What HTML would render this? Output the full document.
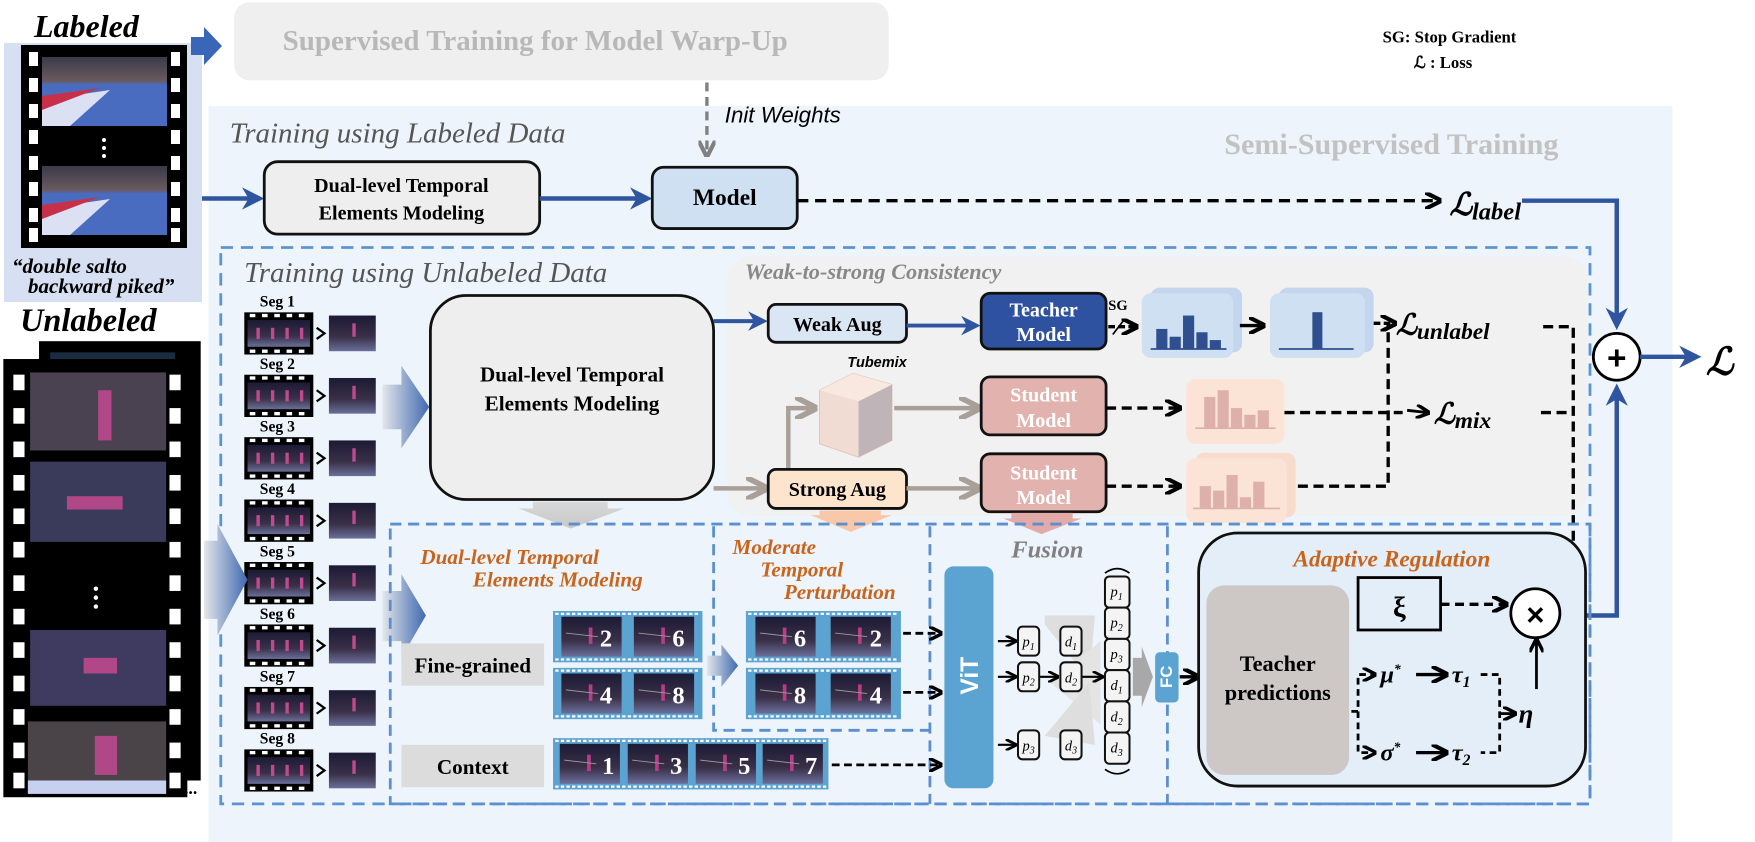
<!DOCTYPE html>
<html><head><meta charset="utf-8"><style>
html,body{margin:0;padding:0;background:#fff;}
svg{display:block;}
text{font-family:"Liberation Serif",serif;}
.b{font-weight:bold;}
.sans{font-family:"Liberation Sans",sans-serif;}
</style></head><body>
<svg width="1755" height="842" viewBox="0 0 1755 842" xmlns="http://www.w3.org/2000/svg">
<defs>
<marker id="ab" viewBox="0 0 10 10" refX="8" refY="5" markerWidth="5" markerHeight="5" orient="auto"><path d="M0,0 L10,5 L0,10 L3,5z" fill="#2f55a0"/></marker>
<marker id="ak" viewBox="0 0 10 10" refX="8" refY="5" markerWidth="5" markerHeight="5" orient="auto"><path d="M0,0 L10,5 L0,10" fill="none" stroke="#000" stroke-width="2.5"/></marker>
<marker id="ag" viewBox="0 0 10 10" refX="8" refY="5" markerWidth="5" markerHeight="5" orient="auto"><path d="M0,0 L10,5 L0,10" fill="none" stroke="#a8a098" stroke-width="2.5"/></marker>
<marker id="agr" viewBox="0 0 10 10" refX="8" refY="5" markerWidth="5" markerHeight="5" orient="auto"><path d="M0,0 L10,5 L0,10" fill="none" stroke="#808080" stroke-width="2.5"/></marker>
<linearGradient id="gr" x1="0" x2="1"><stop offset="0" stop-color="#e4e6ea"/><stop offset="1" stop-color="#3f69b0"/></linearGradient>
<linearGradient id="gd" x1="0" y1="0" x2="0" y2="1"><stop offset="0" stop-color="#d8d8d8"/><stop offset="1" stop-color="#c8c8c8"/></linearGradient>
<linearGradient id="pic" x1="0" y1="0" x2="0" y2="1"><stop offset="0" stop-color="#1c1a35"/><stop offset="0.6" stop-color="#3a3048"/><stop offset="1" stop-color="#6a6f9a"/></linearGradient>
<linearGradient id="fl" x1="0" y1="0" x2="0" y2="1"><stop offset="0" stop-color="#3a3a48"/><stop offset="0.35" stop-color="#6a5a60"/><stop offset="0.4" stop-color="#4a6cc0"/><stop offset="1" stop-color="#4a6cc0"/></linearGradient>
<symbol id="seg" viewBox="0 0 120 38" width="120" height="38">
<rect x="0" y="0" width="62" height="38" fill="#000"/>
<rect x="3" y="7" width="56" height="24" fill="url(#pic)"/>
<g fill="#fff"><rect x="5" y="1.5" width="5" height="3"/><rect x="16" y="1.5" width="5" height="3"/><rect x="27" y="1.5" width="5" height="3"/><rect x="38" y="1.5" width="5" height="3"/><rect x="49" y="1.5" width="5" height="3"/>
<rect x="5" y="33.5" width="5" height="3"/><rect x="16" y="33.5" width="5" height="3"/><rect x="27" y="33.5" width="5" height="3"/><rect x="38" y="33.5" width="5" height="3"/><rect x="49" y="33.5" width="5" height="3"/></g>
<g fill="#c04a90"><rect x="11" y="14" width="3" height="10"/><rect x="24" y="14" width="3" height="10"/><rect x="37" y="14" width="3" height="10"/><rect x="50" y="14" width="3" height="10"/></g>
<path d="M65,14 L72,19 L65,24" fill="none" stroke="#000" stroke-width="2"/>
<rect x="76" y="3" width="42" height="32" fill="url(#pic)"/>
<rect x="97" y="10" width="3" height="12" fill="#c04a90"/>
</symbol>
<symbol id="fr" viewBox="0 0 66 44" width="66" height="44">
<rect width="66" height="44" fill="url(#pic)"/>
<rect x="30" y="12" width="4" height="18" fill="#b83c88"/>
<line x1="5" y1="18" x2="40" y2="22" stroke="#999" stroke-width="1"/>
</symbol>
</defs>

<g transform="scale(1.115)">
<!-- Supervised box -->
<rect x="210" y="2" width="587" height="70" rx="14" fill="#efefef"/>
<text x="480" y="45" text-anchor="middle" class="b" font-size="26" fill="#b8b8b8">Supervised Training for Model Warp-Up</text>
<text x="1240" y="38" class="b" font-size="15">SG: Stop Gradient</text>
<text x="1268" y="61" class="b" font-size="15">ℒ : Loss</text>

<!-- semi-supervised bg -->
<rect x="187" y="95" width="1313" height="660" fill="#edf4fb"/>
<text x="1098" y="138" class="b" font-size="27" fill="#c2c2c2">Semi-Supervised Training</text>
<line x1="634" y1="74" x2="634" y2="138" stroke="#808080" stroke-width="3" stroke-dasharray="8,5" marker-end="url(#agr)"/>
<text x="650" y="110" class="sans" font-size="20" font-style="italic">Init Weights</text>
<text x="206" y="128" font-size="26" font-style="italic" fill="#555">Training using Labeled Data</text>

<!-- Unlabeled films -->
<text x="18" y="297" class="b" font-size="29" font-style="italic">Unlabeled</text>
<rect x="35" y="306" width="145" height="394" fill="#000"/>
<rect x="45" y="316" width="112" height="370" fill="#2b4a6a" opacity="0.6"/>
<rect x="155" y="590" width="10" height="90" fill="#3a8ad0"/>
<rect x="3" y="322" width="165" height="393" fill="#000"/>
<g fill="#fff">
<rect x="12" y="336" width="10" height="14"/><rect x="12" y="366" width="10" height="14"/><rect x="12" y="396" width="10" height="14"/><rect x="12" y="426" width="10" height="14"/><rect x="12" y="456" width="10" height="14"/><rect x="12" y="486" width="10" height="14"/><rect x="12" y="516" width="10" height="14"/><rect x="12" y="546" width="10" height="14"/><rect x="12" y="576" width="10" height="14"/><rect x="12" y="606" width="10" height="14"/><rect x="12" y="636" width="10" height="14"/><rect x="12" y="666" width="10" height="14"/><rect x="12" y="693" width="10" height="14"/>
<rect x="152" y="336" width="10" height="14"/><rect x="152" y="366" width="10" height="14"/><rect x="152" y="396" width="10" height="14"/><rect x="152" y="426" width="10" height="14"/><rect x="152" y="456" width="10" height="14"/><rect x="152" y="486" width="10" height="14"/><rect x="152" y="516" width="10" height="14"/><rect x="152" y="546" width="10" height="14"/><rect x="152" y="576" width="10" height="14"/><rect x="152" y="606" width="10" height="14"/><rect x="152" y="636" width="10" height="14"/><rect x="152" y="666" width="10" height="14"/><rect x="152" y="693" width="10" height="14"/>
<circle cx="86" cy="528" r="2"/><circle cx="86" cy="536" r="2"/><circle cx="86" cy="544" r="2"/>
</g>
<rect x="27" y="334" width="122" height="70" fill="#4a4250"/>
<rect x="27" y="414" width="122" height="72" fill="#3a3a5a"/>
<rect x="27" y="565" width="122" height="68" fill="#3e3a60"/>
<rect x="25" y="647" width="124" height="65" fill="#4a4448"/>
<rect x="25" y="700" width="124" height="12" fill="#c8d0f0"/>
<rect x="88" y="350" width="12" height="45" fill="#b04888"/>
<rect x="60" y="445" width="50" height="12" fill="#b04888"/>
<rect x="75" y="590" width="30" height="14" fill="#b04888"/>
<rect x="85" y="660" width="20" height="35" fill="#b04888"/>
<text x="165" y="712" class="b" font-size="16">...</text>

<!-- Labeled row -->
<line x1="167" y1="178" x2="233" y2="178" stroke="#2f55a0" stroke-width="4" marker-end="url(#ab)"/>
<rect x="237" y="145" width="247" height="65" rx="12" fill="#eeeeee" stroke="#111" stroke-width="2.5"/>
<text x="360" y="172" text-anchor="middle" class="b" font-size="18">Dual-level Temporal</text>
<text x="360" y="197" text-anchor="middle" class="b" font-size="18">Elements Modeling</text>
<line x1="484" y1="178" x2="581" y2="178" stroke="#2f55a0" stroke-width="4" marker-end="url(#ab)"/>
<rect x="585" y="150" width="130" height="55" rx="10" fill="#cfe0f2" stroke="#111" stroke-width="2.5"/>
<text x="650" y="184" text-anchor="middle" class="b" font-size="21">Model</text>
<line x1="715" y1="180" x2="1290" y2="180" stroke="#000" stroke-width="3" stroke-dasharray="10,6" marker-end="url(#ak)"/>
<text x="1300" y="193" class="b" font-size="28" font-style="italic">ℒ<tspan font-size="22" dy="4">label</tspan></text>
<polyline points="1365,180 1450,180 1450,292" fill="none" stroke="#2f55a0" stroke-width="4" marker-end="url(#ab)"/>
<circle cx="1450" cy="320" r="21" fill="#fff" stroke="#000" stroke-width="2.5"/>
<text x="1450" y="331" text-anchor="middle" class="b sans" font-size="30">+</text>
<line x1="1471" y1="320" x2="1522" y2="320" stroke="#2f55a0" stroke-width="4" marker-end="url(#ab)"/>
<text x="1530" y="336" class="b" font-size="34" font-style="italic">ℒ</text>

<!-- Unlabeled dashed region -->
<rect x="198" y="222" width="1228" height="499" fill="none" stroke="#5b93d3" stroke-width="2.5" stroke-dasharray="11,7"/>
<rect x="652" y="230" width="772" height="233" rx="22" fill="#f1f1f1"/>
<text x="219" y="253" font-size="26" font-style="italic" fill="#555">Training using Unlabeled Data</text>
<text x="668" y="250" class="b" font-size="20" font-style="italic" fill="#888">Weak-to-strong Consistency</text>

<!-- segs -->
<g class="b" font-size="14">
<text x="233" y="275">Seg 1</text><text x="233" y="331">Seg 2</text><text x="233" y="387">Seg 3</text><text x="233" y="443">Seg 4</text>
<text x="233" y="499">Seg 5</text><text x="233" y="555">Seg 6</text><text x="233" y="611">Seg 7</text><text x="233" y="667">Seg 8</text>
</g>
<use href="#seg" x="219" y="280"/><use href="#seg" x="219" y="336"/><use href="#seg" x="219" y="392"/><use href="#seg" x="219" y="448"/>
<use href="#seg" x="219" y="504"/><use href="#seg" x="219" y="560"/><use href="#seg" x="219" y="616"/><use href="#seg" x="219" y="672"/>

<!-- gray block arrows -->
<polygon points="183,485 195,485 195,470 222,520 195,570 195,555 183,555" fill="url(#gr)"/>
<polygon points="343,345 360,345 360,328 385,365 360,402 360,385 343,385" fill="url(#gr)"/>
<polygon points="343,530 360,530 360,515 382,552 360,590 360,575 343,575" fill="url(#gr)"/>

<!-- big dual box -->
<rect x="386" y="265" width="254" height="183" rx="32" fill="#eeeeee" stroke="#111" stroke-width="2.5"/>
<text x="513" y="342" text-anchor="middle" class="b" font-size="19">Dual-level Temporal</text>
<text x="513" y="368" text-anchor="middle" class="b" font-size="19">Elements Modeling</text>
<polygon points="478,450 545,450 545,456 560,456 512,474 465,456 478,456" fill="url(#gd)"/>

<!-- weak / strong -->
<line x1="640" y1="288" x2="685" y2="288" stroke="#2f55a0" stroke-width="3.5" marker-end="url(#ab)"/>
<rect x="689" y="273" width="124" height="34" rx="7" fill="#dbe6f5" stroke="#111" stroke-width="2.5"/>
<text x="751" y="297" text-anchor="middle" class="b" font-size="18">Weak Aug</text>
<line x1="813" y1="292" x2="876" y2="292" stroke="#2f55a0" stroke-width="3.5" marker-end="url(#ab)"/>
<rect x="880" y="263" width="112" height="50" rx="8" fill="#2f52a0" stroke="#111" stroke-width="2.5"/>
<text x="936" y="284" text-anchor="middle" class="b" font-size="18" fill="#fff">Teacher</text>
<text x="936" y="306" text-anchor="middle" class="b" font-size="18" fill="#fff">Model</text>
<text x="994" y="278" class="b" font-size="13">SG</text>
<line x1="994" y1="293" x2="1018" y2="293" stroke="#000" stroke-width="3" stroke-dasharray="6,3" marker-end="url(#ak)"/>
<line x1="998" y1="300" x2="1008" y2="287" stroke="#000" stroke-width="1.5"/>
<rect x="1032" y="258" width="82" height="58" rx="8" fill="#c3d6ee"/>
<rect x="1024" y="263" width="82" height="58" rx="8" fill="#cfe0f2"/>
<g fill="#2f4f8f"><rect x="1037" y="295" width="10" height="18"/><rect x="1049" y="302" width="10" height="11"/><rect x="1061" y="283" width="10" height="30"/><rect x="1073" y="298" width="10" height="15"/><rect x="1085" y="305" width="10" height="8"/></g>
<line x1="1032" y1="313" x2="1100" y2="313" stroke="#2f4f8f" stroke-width="1.5"/>
<line x1="1112" y1="292" x2="1132" y2="292" stroke="#000" stroke-width="3" marker-end="url(#ak)"/>
<rect x="1147" y="258" width="85" height="58" rx="8" fill="#c3d6ee"/>
<rect x="1139" y="263" width="85" height="58" rx="8" fill="#cfe0f2"/>
<rect x="1177" y="280" width="9" height="33" fill="#2f4f8f"/>
<line x1="1147" y1="313" x2="1214" y2="313" stroke="#2f4f8f" stroke-width="1.5"/>
<text x="1252" y="300" class="b" font-size="26" font-style="italic">ℒ<tspan font-size="21" dy="4">unlabel</tspan></text>
<line x1="1232" y1="290" x2="1250" y2="290" stroke="#000" stroke-width="3" stroke-dasharray="6,3" marker-end="url(#ak)"/>

<!-- tubemix -->
<text x="760" y="329" class="b sans" font-size="13" font-style="italic">Tubemix</text>
<polygon points="735,350 765,335 800,345 800,395 770,410 735,398" fill="#f1dcd4" stroke="#e0c8c0"/>
<polygon points="735,350 765,335 800,345 770,360" fill="#f8e8e0"/>
<polygon points="770,360 800,345 800,395 770,410" fill="#bfb4b8"/>
<polyline points="707,421 707,366 729,366" fill="none" stroke="#a8a098" stroke-width="4" marker-end="url(#ag)"/>
<line x1="802" y1="366" x2="876" y2="366" stroke="#a8a098" stroke-width="4" marker-end="url(#ag)"/>
<rect x="880" y="338" width="112" height="52" rx="8" fill="#e2b3ae" stroke="#111" stroke-width="2.5"/>
<text x="936" y="360" text-anchor="middle" class="b" font-size="18" fill="#fff">Student</text>
<text x="936" y="383" text-anchor="middle" class="b" font-size="18" fill="#fff">Model</text>
<line x1="640" y1="438" x2="685" y2="438" stroke="#a8a098" stroke-width="4" marker-end="url(#ag)"/>
<rect x="689" y="421" width="124" height="35" rx="7" fill="#fde4cd" stroke="#111" stroke-width="2.5"/>
<text x="751" y="445" text-anchor="middle" class="b" font-size="18">Strong Aug</text>
<polygon points="735,458 790,458 790,462 800,462 763,477 727,462 735,462" fill="#f9c8a8"/>
<line x1="813" y1="438" x2="876" y2="438" stroke="#a8a098" stroke-width="4" marker-end="url(#ag)"/>
<rect x="880" y="407" width="112" height="52" rx="8" fill="#e2b3ae" stroke="#111" stroke-width="2.5"/>
<text x="936" y="430" text-anchor="middle" class="b" font-size="18" fill="#fff">Student</text>
<text x="936" y="452" text-anchor="middle" class="b" font-size="18" fill="#fff">Model</text>
<polygon points="907,460 962,460 962,465 970,465 934,479 900,465 907,465" fill="#e2aaa8"/>
<line x1="992" y1="366" x2="1057" y2="366" stroke="#000" stroke-width="3" stroke-dasharray="9,5" marker-end="url(#ak)"/>
<rect x="1064" y="340" width="88" height="58" rx="8" fill="#fbe3d6"/>
<g fill="#deb0aa"><rect x="1080" y="356" width="10" height="28"/><rect x="1092" y="350" width="10" height="34"/><rect x="1104" y="366" width="10" height="18"/><rect x="1116" y="372" width="10" height="12"/><rect x="1128" y="368" width="10" height="16"/></g>
<line x1="1072" y1="384" x2="1144" y2="384" stroke="#deb0aa" stroke-width="1.5"/>
<line x1="992" y1="436" x2="1057" y2="436" stroke="#000" stroke-width="3" stroke-dasharray="9,5" marker-end="url(#ak)"/>
<rect x="1072" y="406" width="90" height="58" rx="8" fill="#f7dccd"/>
<rect x="1064" y="411" width="90" height="58" rx="8" fill="#fbe3d6"/>
<g fill="#deb0aa"><rect x="1076" y="436" width="10" height="20"/><rect x="1088" y="440" width="10" height="16"/><rect x="1100" y="426" width="10" height="30"/><rect x="1112" y="446" width="10" height="10"/><rect x="1124" y="432" width="10" height="24"/></g>
<line x1="1070" y1="456" x2="1148" y2="456" stroke="#deb0aa" stroke-width="1.5"/>
<polyline points="1152,370 1258,370" fill="none" stroke="#000" stroke-width="3" stroke-dasharray="9,5"/>
<line x1="1262" y1="368" x2="1280" y2="370" stroke="#000" stroke-width="2.5" marker-end="url(#ak)"/>
<polyline points="1164,436 1245,436 1245,290" fill="none" stroke="#000" stroke-width="3" stroke-dasharray="9,5"/>
<text x="1286" y="380" class="b" font-size="26" font-style="italic">ℒ<tspan font-size="21" dy="4">mix</tspan></text>
<polyline points="1384,293 1411,293 1411,490 1387,490 1387,522" fill="none" stroke="#000" stroke-width="3" stroke-dasharray="9,5" marker-end="url(#ak)"/>
<polyline points="1382,370 1408,370" fill="none" stroke="#000" stroke-width="3" stroke-dasharray="9,5"/>
<polyline points="1397,552 1450,552 1450,348" fill="none" stroke="#2f55a0" stroke-width="4" marker-end="url(#ab)"/>

<!-- inner dashed region -->
<rect x="350" y="470" width="1076" height="251" fill="none" stroke="#5b8fd0" stroke-width="2.5" stroke-dasharray="10,6"/>
<polyline points="640,472 640,655 834,655" fill="none" stroke="#5b8fd0" stroke-width="2.5" stroke-dasharray="10,6"/>
<line x1="834" y1="472" x2="834" y2="721" stroke="#5b8fd0" stroke-width="2.5" stroke-dasharray="10,6"/>
<line x1="1047" y1="472" x2="1047" y2="721" stroke="#5b8fd0" stroke-width="2.5" stroke-dasharray="10,6"/>
<g class="b" font-size="19" font-style="italic" fill="#c8641c">
<text x="377" y="506">Dual-level Temporal</text>
<text x="424" y="526">Elements Modeling</text>
<text x="657" y="497">Moderate</text>
<text x="682" y="517">Temporal</text>
<text x="703" y="537">Perturbation</text>
</g>
<rect x="360" y="577" width="128" height="38" fill="#dcdcdc"/>
<text x="424" y="603" text-anchor="middle" class="b" font-size="19">Fine-grained</text>
<rect x="360" y="668" width="128" height="38" fill="#dcdcdc"/>
<text x="424" y="694" text-anchor="middle" class="b" font-size="19">Context</text>

<!-- blue filmstrips -->
<g>
<rect x="496" y="548" width="134" height="46" fill="#5ba3d0"/>
<use href="#fr" x="500" y="553" width="61" height="36"/><use href="#fr" x="565" y="553" width="61" height="36"/>
<rect x="496" y="599" width="134" height="46" fill="#5ba3d0"/>
<use href="#fr" x="500" y="604" width="61" height="36"/><use href="#fr" x="565" y="604" width="61" height="36"/>
<rect x="669" y="548" width="139" height="46" fill="#5ba3d0"/>
<use href="#fr" x="673" y="553" width="63" height="36"/><use href="#fr" x="740" y="553" width="64" height="36"/>
<rect x="669" y="599" width="139" height="46" fill="#5ba3d0"/>
<use href="#fr" x="673" y="604" width="63" height="36"/><use href="#fr" x="740" y="604" width="64" height="36"/>
<rect x="496" y="662" width="247" height="46" fill="#5ba3d0"/>
<use href="#fr" x="500" y="667" width="58" height="36"/><use href="#fr" x="561" y="667" width="58" height="36"/><use href="#fr" x="622" y="667" width="58" height="36"/><use href="#fr" x="683" y="667" width="56" height="36"/>
<g stroke="#fff" stroke-width="2" stroke-dasharray="3,2">
<line x1="498" y1="550.5" x2="628" y2="550.5"/><line x1="498" y1="591.5" x2="628" y2="591.5"/>
<line x1="498" y1="601.5" x2="628" y2="601.5"/><line x1="498" y1="642.5" x2="628" y2="642.5"/>
<line x1="671" y1="550.5" x2="806" y2="550.5"/><line x1="671" y1="591.5" x2="806" y2="591.5"/>
<line x1="671" y1="601.5" x2="806" y2="601.5"/><line x1="671" y1="642.5" x2="806" y2="642.5"/>
<line x1="498" y1="664.5" x2="741" y2="664.5"/><line x1="498" y1="705.5" x2="741" y2="705.5"/>
</g>
<g class="b sans" font-size="22" fill="#fff">
<text x="538" y="580">2</text><text x="603" y="580">6</text>
<text x="538" y="631">4</text><text x="603" y="631">8</text>
<text x="712" y="580">6</text><text x="780" y="580">2</text>
<text x="712" y="631">8</text><text x="780" y="631">4</text>
<text x="540" y="694">1</text><text x="601" y="694">3</text><text x="662" y="694">5</text><text x="722" y="694">7</text>
</g>
</g>
<polygon points="634,588 647,588 647,578 662,597 647,616 647,606 634,606" fill="url(#gr)"/>
<g stroke="#000" stroke-width="2.5" stroke-dasharray="7,4" fill="none">
<line x1="810" y1="568" x2="843" y2="568" marker-end="url(#ak)"/>
<line x1="810" y1="621" x2="843" y2="621" marker-end="url(#ak)"/>
<line x1="746" y1="686" x2="843" y2="686" marker-end="url(#ak)"/>
</g>

<!-- ViT / fusion -->
<rect x="847" y="508" width="44" height="199" rx="8" fill="#5ba3d0"/>
<text x="869" y="606" text-anchor="middle" class="b sans" font-size="22" fill="#fff" transform="rotate(-90 869 606)" dy="8">ViT</text>
<text x="907" y="500" class="b" font-size="22" font-style="italic" fill="#808080">Fusion</text>
<polygon points="937,552 982,552 977,610 937,560" fill="#dedede"/>
<polygon points="942,612 987,575 987,650" fill="#e4e4e4"/>
<polygon points="937,660 977,612 982,668" fill="#dedede"/>
<g stroke="#000" stroke-width="2" fill="none">
<line x1="895" y1="575" x2="910" y2="575" marker-end="url(#ak)"/>
<line x1="895" y1="607" x2="910" y2="607" marker-end="url(#ak)"/>
<line x1="895" y1="668" x2="910" y2="668" marker-end="url(#ak)"/>
<line x1="932" y1="607" x2="948" y2="607" marker-end="url(#ak)"/>
<line x1="970" y1="607" x2="988" y2="607" marker-end="url(#ak)"/>
</g>
<g fill="#f4f4f4" stroke="#111" stroke-width="1.8">
<rect x="913" y="562" width="19" height="26" rx="4"/><rect x="951" y="562" width="19" height="26" rx="4"/>
<rect x="913" y="594" width="19" height="26" rx="4"/><rect x="951" y="594" width="19" height="26" rx="4"/>
<rect x="913" y="655" width="19" height="26" rx="4"/><rect x="951" y="655" width="19" height="26" rx="4"/>
<rect x="991" y="517" width="22" height="28" rx="4"/><rect x="991" y="545" width="22" height="28" rx="4"/><rect x="991" y="573" width="22" height="28" rx="4"/>
<rect x="991" y="601" width="22" height="28" rx="4"/><rect x="991" y="629" width="22" height="28" rx="4"/><rect x="991" y="657" width="22" height="28" rx="4"/>
</g>
<path d="M991,514 Q1002,506 1013,514 M991,690 Q1002,698 1013,690" fill="none" stroke="#000" stroke-width="1.5"/>
<g class="sans" font-size="13" font-style="italic">
<text x="917" y="580">p<tspan font-size="9" dy="3">1</tspan></text><text x="955" y="580">d<tspan font-size="9" dy="3">1</tspan></text>
<text x="917" y="612">p<tspan font-size="9" dy="3">2</tspan></text><text x="955" y="612">d<tspan font-size="9" dy="3">2</tspan></text>
<text x="917" y="673">p<tspan font-size="9" dy="3">3</tspan></text><text x="955" y="673">d<tspan font-size="9" dy="3">3</tspan></text>
<text x="996" y="535">p<tspan font-size="9" dy="3">1</tspan></text>
<text x="996" y="563">p<tspan font-size="9" dy="3">2</tspan></text>
<text x="996" y="591">p<tspan font-size="9" dy="3">3</tspan></text>
<text x="996" y="619">d<tspan font-size="9" dy="3">1</tspan></text>
<text x="996" y="647">d<tspan font-size="9" dy="3">2</tspan></text>
<text x="996" y="675">d<tspan font-size="9" dy="3">3</tspan></text>
</g>
<polygon points="1016,590 1024,590 1024,580 1034,607 1024,634 1024,624 1016,624" fill="#a8a8a8"/>
<rect x="1036" y="585" width="21" height="45" rx="4" fill="#5ba3d0"/>
<text x="1046" y="607" text-anchor="middle" class="b sans" font-size="15" fill="#fff" transform="rotate(-90 1046 607)" dy="5">FC</text>
<line x1="1058" y1="607" x2="1073" y2="607" stroke="#000" stroke-width="3" marker-end="url(#ak)"/>

<!-- Adaptive regulation -->
<rect x="1075" y="478" width="347" height="227" rx="35" fill="#e3eef9" stroke="#111" stroke-width="2.5"/>
<text x="1160" y="508" class="b" font-size="21" font-style="italic" fill="#c8641c">Adaptive Regulation</text>
<rect x="1082" y="525" width="128" height="170" rx="16" fill="#cdc8c5"/>
<text x="1146" y="602" text-anchor="middle" class="b" font-size="20">Teacher</text>
<text x="1146" y="628" text-anchor="middle" class="b" font-size="20">predictions</text>
<rect x="1218" y="518" width="74" height="47" fill="none" stroke="#000" stroke-width="2.5"/>
<text x="1255" y="553" text-anchor="middle" class="b" font-size="26">ξ</text>
<line x1="1292" y1="542" x2="1350" y2="542" stroke="#000" stroke-width="3" stroke-dasharray="8,5" marker-end="url(#ak)"/>
<circle cx="1377" cy="550" r="22" fill="#fff" stroke="#000" stroke-width="2.5"/>
<text x="1377" y="561" text-anchor="middle" class="b sans" font-size="28">×</text>
<polyline points="1212,638 1218,638 1218,605 1232,605" fill="none" stroke="#000" stroke-width="2.5" stroke-dasharray="6,4" marker-end="url(#ak)"/>
<polyline points="1218,638 1218,675 1232,675" fill="none" stroke="#000" stroke-width="2.5" stroke-dasharray="6,4" marker-end="url(#ak)"/>
<text x="1238" y="612" font-size="22" font-style="italic" class="b">μ<tspan font-size="12" dy="-8">*</tspan></text>
<text x="1238" y="682" font-size="22" font-style="italic" class="b">σ<tspan font-size="12" dy="-8">*</tspan></text>
<line x1="1270" y1="605" x2="1296" y2="605" stroke="#000" stroke-width="3" marker-end="url(#ak)"/>
<line x1="1270" y1="675" x2="1296" y2="675" stroke="#000" stroke-width="3" marker-end="url(#ak)"/>
<text x="1302" y="612" font-size="22" font-style="italic" class="b">τ<tspan font-size="14" dy="4">1</tspan></text>
<text x="1302" y="682" font-size="22" font-style="italic" class="b">τ<tspan font-size="14" dy="4">2</tspan></text>
<polyline points="1328,605 1345,605 1345,675 1328,675" fill="none" stroke="#000" stroke-width="2.5" stroke-dasharray="6,4"/>
<line x1="1345" y1="640" x2="1358" y2="640" stroke="#000" stroke-width="2.5" marker-end="url(#ak)"/>
<text x="1362" y="648" font-size="24" font-style="italic" class="b">η</text>
<line x1="1378" y1="618" x2="1378" y2="575" stroke="#000" stroke-width="2.5" marker-end="url(#ak)"/>
</g>

<!-- Labeled panel (true coordinates) -->
<text x="34" y="37" class="b" font-size="32" font-style="italic">Labeled</text>
<rect x="4" y="43" width="198" height="259" fill="#d6e0f2"/>
<rect x="21" y="45" width="166" height="203" fill="#000"/>
<g fill="#fff">
<rect x="29" y="52" width="9" height="14"/><rect x="29" y="78" width="9" height="14"/><rect x="29" y="104" width="9" height="14"/><rect x="29" y="130" width="9" height="14"/><rect x="29" y="156" width="9" height="14"/><rect x="29" y="182" width="9" height="14"/><rect x="29" y="208" width="9" height="14"/><rect x="29" y="228" width="9" height="14"/>
<rect x="171" y="52" width="9" height="14"/><rect x="171" y="78" width="9" height="14"/><rect x="171" y="104" width="9" height="14"/><rect x="171" y="130" width="9" height="14"/><rect x="171" y="156" width="9" height="14"/><rect x="171" y="182" width="9" height="14"/><rect x="171" y="208" width="9" height="14"/><rect x="171" y="228" width="9" height="14"/>
<circle cx="104" cy="140" r="2"/><circle cx="104" cy="148" r="2"/><circle cx="104" cy="156" r="2"/>
</g>
<rect x="42" y="57" width="125" height="69" fill="url(#fl)"/>
<polygon points="42,100 110,90 70,126 42,126" fill="#fff" opacity="0.8"/>
<polygon points="42,96 100,88 42,110" fill="#c8304a"/>
<rect x="42" y="166" width="125" height="69" fill="url(#fl)"/>
<polygon points="42,209 110,199 70,235 42,235" fill="#fff" opacity="0.8"/>
<polygon points="42,205 100,197 42,219" fill="#c8304a"/>
<text x="12" y="273" class="b" font-size="21" font-style="italic">“double salto</text>
<text x="28" y="293" class="b" font-size="21" font-style="italic">backward piked”</text>
<polygon points="191,37 204,37 204,27 222,46 204,65 204,55 191,55" fill="#3a66b8"/>
</svg>
</body></html>
